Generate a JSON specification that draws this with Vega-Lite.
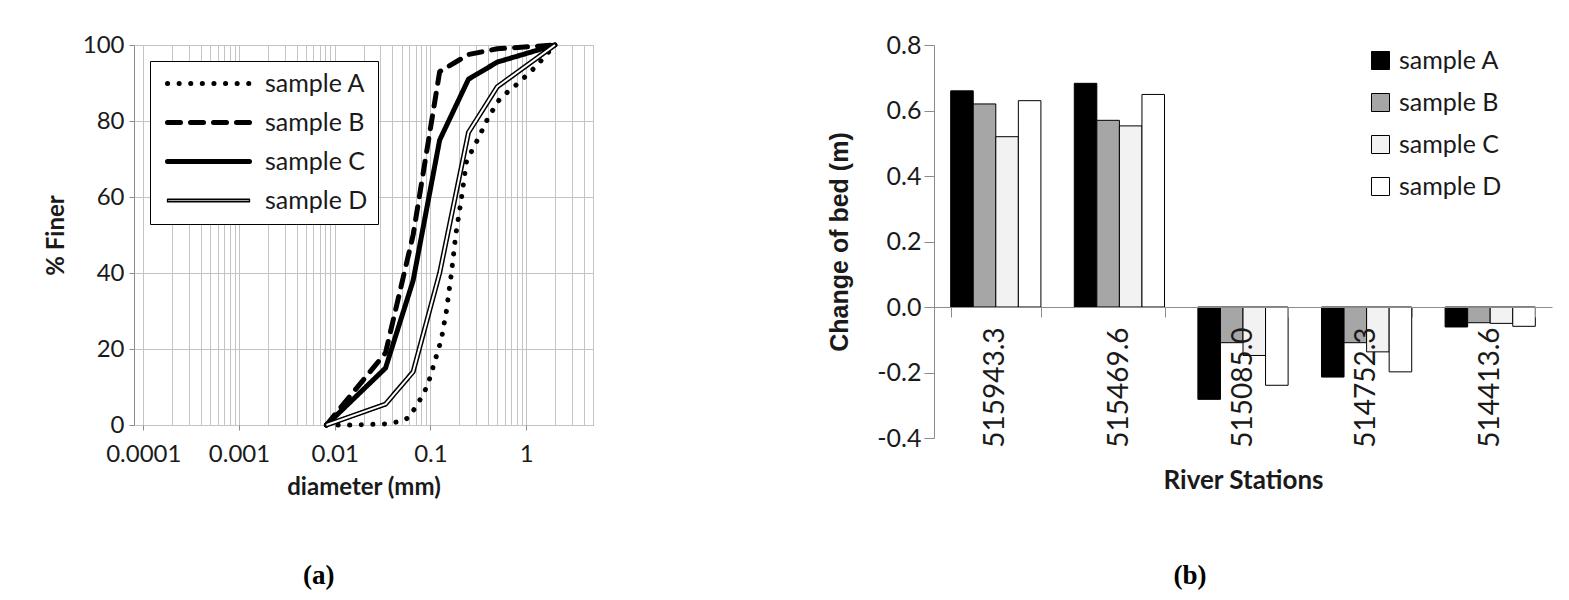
{
  "$schema": "https://vega.github.io/schema/vega-lite/v6.json",
  "background": "white",
  "padding": {"left": 43, "top": 32, "right": 5, "bottom": 5},
  "spacing": 233,
  "config": {
    "font": "Lato",
    "view": {"stroke": "#8c8c8c", "strokeWidth": 1},
    "axis": {
      "labelFont": "Lato",
      "labelFontSize": 24,
      "labelColor": "#1a1a1a",
      "titleFont": "Lato",
      "titleFontSize": 24,
      "titleFontWeight": "bold",
      "titleColor": "#1a1a1a",
      "domainColor": "#8c8c8c",
      "tickColor": "#8c8c8c",
      "gridColor": "#c4c4c4"
    },
    "legend": {"labelFont": "Lato", "labelFontSize": 25, "labelColor": "#1a1a1a"},
    "title": {"font": "Liberation Serif", "fontSize": 27, "fontWeight": "bold", "color": "black"}
  },
  "hconcat": [
    {
      "width": 459,
      "height": 380,
      "title": {"text": "(a)", "orient": "bottom", "offset": 64, "anchor": "middle", "frame": "bounds"},
      "data": {
        "values": [
          {"sample": "sample A", "d": 0.0082, "pct": 0},
          {"sample": "sample A", "d": 0.016, "pct": 0},
          {"sample": "sample A", "d": 0.034, "pct": 0.3},
          {"sample": "sample A", "d": 0.05, "pct": 1},
          {"sample": "sample A", "d": 0.06, "pct": 2},
          {"sample": "sample A", "d": 0.071, "pct": 5},
          {"sample": "sample A", "d": 0.084, "pct": 8},
          {"sample": "sample A", "d": 0.095, "pct": 11},
          {"sample": "sample A", "d": 0.115, "pct": 18},
          {"sample": "sample A", "d": 0.13, "pct": 22.5},
          {"sample": "sample A", "d": 0.147, "pct": 30},
          {"sample": "sample A", "d": 0.166, "pct": 40},
          {"sample": "sample A", "d": 0.184, "pct": 50},
          {"sample": "sample A", "d": 0.212, "pct": 60},
          {"sample": "sample A", "d": 0.239, "pct": 69.5},
          {"sample": "sample A", "d": 0.31, "pct": 75},
          {"sample": "sample A", "d": 0.404, "pct": 81},
          {"sample": "sample A", "d": 0.536, "pct": 86},
          {"sample": "sample A", "d": 0.832, "pct": 90},
          {"sample": "sample A", "d": 1.285, "pct": 94.5},
          {"sample": "sample A", "d": 2.0, "pct": 100},
          {"sample": "sample B", "d": 0.0082, "pct": 0},
          {"sample": "sample B", "d": 0.034, "pct": 19},
          {"sample": "sample B", "d": 0.066, "pct": 50},
          {"sample": "sample B", "d": 0.125, "pct": 93},
          {"sample": "sample B", "d": 0.25, "pct": 97.5},
          {"sample": "sample B", "d": 0.5, "pct": 99},
          {"sample": "sample B", "d": 2.0, "pct": 100},
          {"sample": "sample C", "d": 0.0082, "pct": 0},
          {"sample": "sample C", "d": 0.034, "pct": 15},
          {"sample": "sample C", "d": 0.066, "pct": 38},
          {"sample": "sample C", "d": 0.125, "pct": 75},
          {"sample": "sample C", "d": 0.25, "pct": 91},
          {"sample": "sample C", "d": 0.5, "pct": 95.5},
          {"sample": "sample C", "d": 2.0, "pct": 100},
          {"sample": "sample D", "d": 0.0082, "pct": 0},
          {"sample": "sample D", "d": 0.034, "pct": 5.5},
          {"sample": "sample D", "d": 0.066, "pct": 14},
          {"sample": "sample D", "d": 0.125, "pct": 40},
          {"sample": "sample D", "d": 0.25, "pct": 77},
          {"sample": "sample D", "d": 0.5, "pct": 89},
          {"sample": "sample D", "d": 2.0, "pct": 100}
        ]
      },
      "layer": [
        {
          "mark": {"type": "line", "color": "black", "strokeWidth": 5, "strokeCap": "round", "strokeJoin": "round"},
          "encoding": {
            "x": {
              "field": "d",
              "type": "quantitative",
              "scale": {"type": "log", "domain": [0.00008, 5], "nice": false},
              "axis": {
                "title": "diameter (mm)",
                "values": [0.0001, 0.0002, 0.0003, 0.0004, 0.0005, 0.0006, 0.0007, 0.0008, 0.0009,
                           0.001, 0.002, 0.003, 0.004, 0.005, 0.006, 0.007, 0.008, 0.009,
                           0.01, 0.02, 0.03, 0.04, 0.05, 0.06, 0.07, 0.08, 0.09,
                           0.1, 0.2, 0.3, 0.4, 0.5, 0.6, 0.7, 0.8, 0.9,
                           1, 2, 3, 4, 5],
                "labelExpr": "abs(log(datum.value)/LN10 - round(log(datum.value)/LN10)) < 0.001 ? format(datum.value, '~g') : ''",
                "labelOverlap": false,
                "labelFlush": false,
                "grid": true,
                "domain": false,
                "tickSize": 5,
                "tickOpacity": {"condition": {"test": "abs(log(datum.value)/LN10 - round(log(datum.value)/LN10)) < 0.001", "value": 1}, "value": 0},
                "labelPadding": 12,
                "titlePadding": 9
              }
            },
            "y": {
              "field": "pct",
              "type": "quantitative",
              "scale": {"domain": [0, 100], "nice": false},
              "axis": {
                "title": "% Finer",
                "values": [0, 20, 40, 60, 80, 100],
                "grid": true,
                "domain": false,
                "tickSize": 5,
                "labelPadding": 5,
                "titlePadding": 14
              }
            },
            "strokeDash": {
              "field": "sample",
              "type": "nominal",
              "scale": {
                "domain": ["sample A", "sample B", "sample C", "sample D"],
                "range": [[0.1, 11.5], [13, 10], [1, 0], [1, 0]]
              },
              "legend": {
                "title": null,
                "orient": "top-left",
                "offset": 16,
                "padding": 10,
                "strokeColor": "black",
                "fillColor": "white",
                "cornerRadius": 0,
                "symbolType": "M-1,0H15.4",
                "symbolSize": 100,
                "symbolStrokeWidth": 5,
                "symbolStrokeColor": "black",
                "symbolFillColor": "transparent",
                "labelOffset": 80,
                "rowPadding": 13,
                "labelFontSize": 25,
                "encode": {
                  "symbols": {
                    "update": {
                      "shape": {"signal": "datum.value === 'sample D' ? 'M-1,-0.25H15.4V0.25H-1Z' : 'M-1,0H15.4'"},
                      "fill": {"signal": "datum.value === 'sample D' ? '#a6a6a6' : 'transparent'"},
                      "stroke": {"value": "black"},
                      "strokeWidth": {"signal": "datum.value === 'sample D' ? 1.3 : 5"},
                      "strokeCap": {"value": "round"},
                      "opacity": {"value": 1}
                    }
                  }
                }
              }
            }
          }
        },
        {
          "transform": [{"filter": "datum.sample === 'sample D'"}],
          "mark": {"type": "line", "color": "white", "strokeWidth": 2, "strokeJoin": "round"},
          "encoding": {
            "x": {"field": "d", "type": "quantitative"},
            "y": {"field": "pct", "type": "quantitative"}
          }
        }
      ]
    },
    {
      "width": 618,
      "height": 393,
      "view": {"stroke": null},
      "title": {"text": "(b)", "orient": "bottom", "offset": 70, "anchor": "middle", "frame": "bounds"},
      "data": {
        "values": [
          {"station": "515943.3", "sample": "sample A", "change": 0.66},
          {"station": "515943.3", "sample": "sample B", "change": 0.62},
          {"station": "515943.3", "sample": "sample C", "change": 0.52},
          {"station": "515943.3", "sample": "sample D", "change": 0.63},
          {"station": "515469.6", "sample": "sample A", "change": 0.683},
          {"station": "515469.6", "sample": "sample B", "change": 0.57},
          {"station": "515469.6", "sample": "sample C", "change": 0.553},
          {"station": "515469.6", "sample": "sample D", "change": 0.649},
          {"station": "515085.0", "sample": "sample A", "change": -0.282},
          {"station": "515085.0", "sample": "sample B", "change": -0.109},
          {"station": "515085.0", "sample": "sample C", "change": -0.148},
          {"station": "515085.0", "sample": "sample D", "change": -0.239},
          {"station": "514752.3", "sample": "sample A", "change": -0.214},
          {"station": "514752.3", "sample": "sample B", "change": -0.109},
          {"station": "514752.3", "sample": "sample C", "change": -0.137},
          {"station": "514752.3", "sample": "sample D", "change": -0.198},
          {"station": "514413.6", "sample": "sample A", "change": -0.061},
          {"station": "514413.6", "sample": "sample B", "change": -0.048},
          {"station": "514413.6", "sample": "sample C", "change": -0.05},
          {"station": "514413.6", "sample": "sample D", "change": -0.059}
        ]
      },
      "mark": {"type": "bar", "stroke": "black", "strokeWidth": 1},
      "encoding": {
        "x": {
          "field": "station",
          "type": "nominal",
          "sort": null,
          "scale": {"paddingInner": 0.27, "paddingOuter": 0.135},
          "axis": {
            "title": "River Stations",
            "titleFontSize": 26,
            "labelAngle": 270,
            "labelFontSize": 28,
            "labelPadding": 10,
            "offset": -131,
            "tickBand": "extent",
            "tickSize": 10,
            "titlePadding": 20,
            "zindex": 1
          }
        },
        "xOffset": {"field": "sample", "type": "nominal", "scale": {"paddingInner": 0}},
        "y": {
          "field": "change",
          "type": "quantitative",
          "scale": {"domain": [-0.4, 0.8], "nice": false},
          "axis": {
            "title": "Change of bed (m)",
            "titleFont": "Liberation Sans",
            "titleFontSize": 25,
            "values": [-0.4, -0.2, 0, 0.2, 0.4, 0.6, 0.8],
            "labelExpr": "replace(format(datum.value, '.1f'), '\u2212', '-')",
            "labelFontSize": 25,
            "grid": false,
            "tickSize": 10,
            "labelPadding": 3,
            "titlePadding": 24
          }
        },
        "fill": {
          "field": "sample",
          "type": "nominal",
          "scale": {
            "domain": ["sample A", "sample B", "sample C", "sample D"],
            "range": ["#000000", "#a6a6a6", "#f2f2f2", "#ffffff"]
          },
          "legend": {
            "title": null,
            "orient": "none",
            "legendX": 1234,
            "legendY": 3,
            "symbolType": "square",
            "symbolSize": 324,
            "symbolStrokeColor": "black",
            "symbolStrokeWidth": 1,
            "labelFontSize": 25,
            "labelOffset": 6,
            "rowPadding": 16
          }
        }
      }
    }
  ]
}
